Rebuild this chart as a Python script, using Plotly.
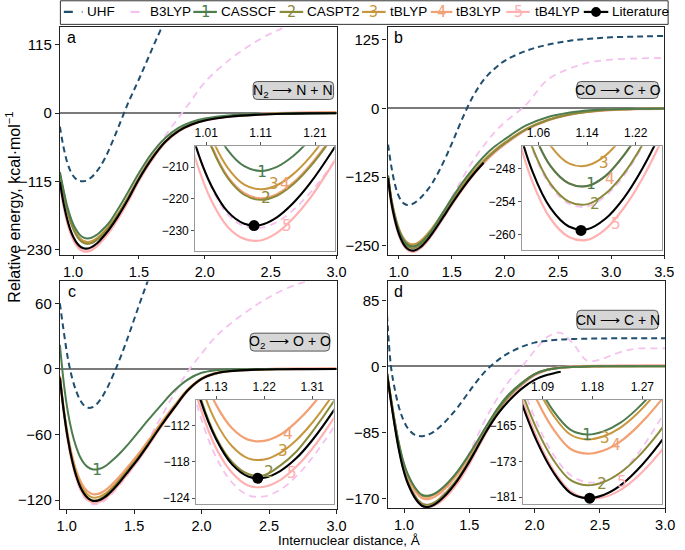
import plotly.graph_objects as go

# ---------------- data (kcal/mol vs internuclear distance, Angstrom) ----------------
N2_R = [0.90, 0.93, 0.96, 0.99, 1.02, 1.05, 1.08, 1.11, 1.14, 1.17, 1.20, 1.24, 1.28, 1.34,
        1.42, 1.5, 1.6, 1.7, 1.8, 1.9, 2.0, 2.2, 2.4, 2.6, 2.8, 3.0]
N2_UHF = [-23, -60, -86, -102, -110.5, -114.3, -114.8, -112.5, -108, -101, -92, -77, -58, -26,
          18, 57, 108, 158, 208, None, None, None, None, None, None, None]
N2_B3LYP = [-115, -154, -183, -203, -216.5, -225, -228.6, -229.1, -227.3, -223.5, -218.3, -209.5,
            -198.5, -178, -142, -108, -70, -38, -8, 22, 52, 92, 122, 144, 160, 172]
N2_CASSCF = [-99.3, -132.0, -160.5, -181.0, -195.4, -204.7, -209.7, -211.2, -209.9, -206.5, -201.4,
             -192.8, -182.8, -162, -132, -101, -67, -42, -25, -15, -9, -3.5, -1.5, -0.6, -0.2, 0]
N2_CASPT2 = [-103.5, -137.7, -167.4, -188.8, -203.8, -213.5, -218.7, -220.3, -219.0, -215.4, -210.1,
             -201.1, -190.6, -171.8, -142.1, -110.2, -74.9, -48.5, -29.7, -18.7, -11.7, -5.5, -2.6,
             -1.1, -0.4, -0.2]
N2_TBLYP = [-102.0, -135.6, -164.9, -186.0, -200.7, -210.3, -215.5, -217.0, -215.7, -212.2, -207.0,
            -198.1, -187.8, -169.3, -140.0, -108.5, -73.8, -47.7, -29.3, -18.4, -11.5, -5.0, -2.0,
            -0.6, 0.2, 0.6]
N2_TB3LYP = [-103.3, -137.4, -167.0, -188.4, -203.3, -213.1, -218.2, -219.8, -218.5, -214.9, -209.6,
             -200.7, -190.2, -171.4, -141.8, -109.9, -74.7, -48.4, -29.7, -18.7, -11.6, -5.0, -1.8,
             -0.2, 0.6, 1.0]
N2_TB4LYP = [-118.7, -157.8, -186.7, -207.2, -220.7, -228.9, -232.6, -233.1, -230.7, -226.1, -220.0,
             -209.7, -198.3, -178.2, -147.5, -113.9, -78.2, -49.5, -31.0, -19.8, -12.4, -5.3, -1.9,
             -0.1, 0.8, 1.2]
N2_LIT = [-116, -154.5, -182.8, -202.9, -216.0, -224.1, -227.8, -228.2, -225.8, -221.3, -215.3,
          -205.4, -194.2, -174.4, -144.4, -111.4, -76.4, -48.4, -30.4, -19.4, -12.4, -5.9, -2.8,
          -1.2, -0.5, -0.2]
N2_EQ_R = [1.098]
N2_EQ_E = [-228.4]

CO_R = [0.90, 0.93, 0.96, 0.99, 1.02, 1.05, 1.08, 1.11, 1.14, 1.17, 1.20, 1.23, 1.27, 1.32, 1.38,
        1.45, 1.52, 1.6, 1.7, 1.8, 1.9, 2.0, 2.2, 2.4, 2.6, 2.8, 3.0, 3.25, 3.5]
CO_UHF = [-66, -105, -135, -155, -167, -173.5, -176, -175.5, -173, -169, -164, -158, -149, -135,
          -114, -86, -55, -18, 22, 52, 72, 87, 105, 116, 123, 127, 129.5, 131, 132]
CO_B3LYP = [-125.0, -168.0, -196.6, -218.2, -233.9, -244.6, -251.2, -254.4, -254.9, -253.0, -249.4,
            -244.2, -235.7, -223.0, -205, -180, -155, -127, -95, -68, -44, -25, 7, 52, 72, 84, 89,
            91, 92]
CO_CASSCF = [-123.1, -165.6, -193.8, -215.0, -230.5, -241.0, -247.6, -250.7, -251.2, -249.4, -245.7,
             -240.7, -232.3, -219.8, -201, -179, -158, -135, -110, -88, -70, -56, -31, -16, -8,
             -3.5, -1.5, -0.5, -0.1]
CO_CASPT2 = [-124.8, -167.8, -196.3, -217.8, -233.5, -244.2, -250.8, -254.0, -254.5, -252.6, -249.0,
             -243.9, -235.3, -222.7, -205.9, -185.5, -165.3, -143.5, -118.8, -97.4, -78.9, -63.7,
             -38.2, -21.6, -11.5, -5.6, -2.5, -1.0, -0.3]
CO_TBLYP = [-121.3, -163.2, -190.9, -211.8, -227.1, -237.5, -243.9, -247.1, -247.5, -245.7, -242.1,
            -237.1, -228.8, -216.6, -200.3, -180.4, -160.8, -139.5, -115.5, -94.7, -76.8, -61.9,
            -37.1, -21.0, -11.1, -5.4, -2.5, -1.0, -0.2]
CO_TB3LYP = [-123.1, -165.6, -193.8, -215.0, -230.5, -241.0, -247.6, -250.7, -251.2, -249.4, -245.7,
             -240.7, -232.3, -219.8, -203.3, -183.1, -163.2, -141.6, -117.2, -96.1, -77.9, -62.8,
             -37.7, -21.4, -11.3, -5.5, -2.5, -1.0, -0.3]
CO_TB4LYP = [-127.9, -172.0, -201.2, -223.3, -239.4, -250.4, -257.1, -260.4, -260.9, -259.0, -255.2,
             -250.0, -241.2, -228.3, -211.1, -190.2, -169.5, -147.1, -121.8, -99.8, -80.9, -65.3,
             -39.2, -22.2, -11.7, -5.7, -2.6, -1.0, -0.3]
CO_LIT = [-127.0, -170.7, -199.8, -221.7, -237.6, -248.5, -255.2, -258.5, -259.0, -257.1, -253.4,
          -248.2, -239.5, -226.6, -209.6, -188.8, -168.2, -146.0, -120.9, -99.1, None, None, None,
          None, None, None, None, None, None]
CO_EQ_R = [1.130]
CO_EQ_E = [-259.2]

O2_R = [0.95, 0.98, 1.01, 1.04, 1.07, 1.10, 1.13, 1.16, 1.19, 1.22, 1.25, 1.28, 1.31, 1.35, 1.40,
        1.46, 1.53, 1.6, 1.7, 1.8, 1.9, 2.0, 2.1, 2.2, 2.4, 2.6, 2.8, 3.0]
O2_UHF = [60, 33, 9, -8, -20, -28.5, -33.5, -35.5, -35, -32.5, -28, -22, -15, -4, 11, 31, 56, 80,
          113, None, None, None, None, None, None, None, None, None]
O2_B3LYP = [-8, -41, -66.2, -85.5, -99.9, -110.2, -117.2, -121.4, -123.5, -123.7, -122.6, -120.4,
            -117.3, -112.3, -105.0, -95.5, -82, -66, -44, -22, -2, 14, 29, 40, 58, 72, 81, 87]
O2_CASSCF = [22, -14, -40, -58, -71, -80.5, -86.5, -90, -91.6, -91.8, -91, -89.2, -86.6, -82.4, -76.3,
             -68.2, -57.8, -47.3, -33, -19.5, -9.5, -3.5, -1.2, -0.4, 0, 0, 0, 0]
O2_CASPT2 = [-7.5, -39.7, -64.4, -83.1, -97.1, -107.1, -113.9, -118.0, -120.0, -120.2, -118.6, -116.3,
             -113.0, -108.0, -100.8, -91.8, -81.2, -69.3, -51.5, -34.8, -19.2, -9.0, -4.2, -2.0, -0.6,
             -0.2, -0.1, 0]
O2_TBLYP = [-6.5, -38.8, -63.0, -81.3, -95.0, -104.8, -111.4, -115.4, -117.4, -117.6, -116.5, -114.4,
            -111.5, -106.7, -99.8, -90.8, -80.2, -68.3, -50.6, -34.1, -18.8, -8.8, -4.1, -2.0, -0.5,
            -0.1, 0, 0]
O2_TB3LYP = [-6, -37.8, -61.3, -79.2, -92.5, -102.0, -108.5, -112.4, -114.3, -114.5, -113.5, -111.4,
             -108.6, -103.9, -97.2, -88.4, -78.0, -66.5, -49.3, -33.2, -18.3, -8.6, -3.8, -1.6, -0.3,
             0.1, 0.2, 0.3]
O2_TB4LYP = [-8, -40.3, -65.4, -84.4, -98.6, -108.8, -115.7, -119.8, -121.9, -122.1, -121.0, -118.8,
             -115.8, -110.8, -103.6, -94.3, -83.2, -70.9, -52.5, -35.4, -19.6, -9.2, -4.3, -2.1, -0.5,
             0, 0.2, 0.3]
O2_LIT = [-8.1, -39.8, -64.6, -83.4, -97.4, -107.5, -114.2, -118.4, -120.4, -120.6, -119.5, -117.4,
          -114.4, -109.5, -102.4, -93.1, -82.2, -70.0, -51.9, -35.0, -19.3, -9.1, -4.2, -2.1, -0.6,
          -0.2, -0.1, 0]
O2_EQ_R = [1.208]
O2_EQ_E = [-120.7]

CN_R = [0.87, 0.90, 0.93, 0.96, 0.99, 1.02, 1.05, 1.08, 1.11, 1.14, 1.17, 1.20, 1.23, 1.26, 1.30,
        1.35, 1.41, 1.48, 1.55, 1.63, 1.72, 1.8, 1.9, 2.0, 2.1, 2.2, 2.3, 2.4, 2.5, 2.6, 2.7, 2.8,
        2.9, 3.0]
CN_UHF = [66, 0, -30, -52, -67, -77.5, -84, -88, -89.8, -90, -89, -87, -84, -80, -74, -65, -53, -37,
          -21, -5, 8, 17, 25, 30.5, 33, 34.5, 35.2, 35.6, 35.8, 36, 36, 36, 36, 36]
CN_B3LYP = [-10, -43, -74.5, -102.5, -125, -142.5, -154.5, -164.3, -171.5, -176.0, -177.6, -177.4,
            -175.5, -171.5, -164, -153, -138, -118, -94, -66, -40, -20, -1, 20, 38, 43, 28, 7.5,
            8.5, 15, 20.5, 23, 23, 23]
CN_CASSCF = [-9.2, -41.4, -71.8, -98.5, -119.7, -135.4, -146.4, -155.2, -161.7, -165.8, -166.9,
             -166.2, -164.3, -161.2, -155.8, -147.4, -135.4, -118.3, -99.5, -77.4, -53.4, -36.7,
             -21.7, -10.0, -4.2, -1.7, -0.7, -0.2, 0, 0, 0, 0, 0, 0]
CN_CASPT2 = [-9.8, -44.2, -76.7, -105.2, -127.8, -144.6, -156.4, -165.8, -172.7, -177.1, -178.3,
             -177.6, -175.5, -172.2, -166.4, -157.4, -144.6, -126.4, -106.3, -82.7, -57.1, -39.2,
             -23.2, -10.7, -4.5, -1.8, -0.7, -0.2, 0, 0, 0, 0, 0, 0]
CN_TBLYP = [-9.2, -41.7, -72.2, -99.1, -120.5, -136.2, -147.3, -156.2, -162.7, -166.9, -168.0, -167.3,
            -165.4, -162.3, -156.8, -148.3, -136.2, -119.1, -100.1, -77.9, -53.8, -37.0, -21.8,
            -10.1, -4.2, -1.7, -0.7, -0.2, 0, 0, 0, 0, 0, 0]
CN_TB3LYP = [-9.4, -42.5, -73.6, -101.0, -122.8, -138.8, -150.1, -159.2, -165.8, -170.1, -171.2,
             -170.5, -168.5, -165.3, -159.8, -151.2, -138.8, -121.4, -102.0, -79.4, -54.8, -37.7,
             -22.3, -10.3, -4.3, -1.7, -0.7, -0.2, 0, 0.2, 0.3, 0.4, 0.5, 0.5]
CN_TB4LYP = [-9, -43, -75.5, -104.5, -128.0, -145.5, -157.8, -167.7, -175.0, -179.6, -181.2, -181.0,
             -179.4, -176.5, -171.2, -162.6, -150.0, -131.5, -109.5, -85.0, -60.0, -41.5, -24.5,
             -11.5, -4.5, -1.5, -0.3, 0.3, 0.6, 0.8, 0.9, 1.0, 1.0, 1.0]
CN_LIT = [-10, -45, -78, -107, -130, -147, -159, -168.5, -175.5, -180.0, -181.2, -180.5, -178.4,
          -175.0, -169.1, -160.0, -147.0, -128.5, -108, -84, -61, -45, -29, -17.5, -11, -7, None,
          None, None, None, None, None, None, None]
CN_EQ_R = [1.175]
CN_EQ_E = [-181.2]

METHODS = ["UHF", "B3LYP", "CASSCF", "CASPT2", "tBLYP", "tB3LYP", "tB4LYP", "Literature"]
REACTIONS = ["N<sub>2</sub> ⟶ N + N", "CO ⟶ C + O", "O<sub>2</sub> ⟶ O + O", "CN ⟶ C + N"]
PANEL_LETTERS = ["a", "b", "c", "d"]
MAIN_YTICKS = [[-230, -115, 0, 115], [-250, -125, 0, 125], [-120, -60, 0, 60], [-170, -85, 0, 85]]
MAIN_XTICKS = [[1.0, 1.5, 2.0, 2.5, 3.0], [1.0, 1.5, 2.0, 2.5, 3.0, 3.5],
               [1.0, 1.5, 2.0, 2.5, 3.0], [1.0, 1.5, 2.0, 2.5, 3.0]]
INSET_XTICKS = [[1.01, 1.11, 1.21], [1.06, 1.14, 1.22], [1.13, 1.22, 1.31], [1.09, 1.18, 1.27]]
INSET_YTICKS = [[-230, -220, -210], [-260, -254, -248], [-124, -118, -112], [-181, -173, -165]]

# ---------------- styling ----------------
W, H = 685, 550
FONT = "Liberation Sans, Arial, Helvetica, sans-serif"
MONO = "DejaVu Sans Mono, monospace"
COL = {
    "UHF": "#1f4e6e", "B3LYP": "#f5c2ef", "CASSCF": "#4d7c4f", "CASPT2": "#8a8a3b",
    "tBLYP": "#c8963e", "tB3LYP": "#f2a074", "tB4LYP": "#ffb1b1", "Literature": "#000000",
}
WID = {"UHF": 2, "B3LYP": 1.8, "CASSCF": 2, "CASPT2": 2, "tBLYP": 2, "tB3LYP": 2.2,
       "tB4LYP": 2.6, "Literature": 2.1}
DASH = {"UHF": "6px,4px", "B3LYP": "7px,5px"}
DRAW_ORDER = ["B3LYP", "UHF", "tB4LYP", "tB3LYP", "tBLYP", "CASPT2", "CASSCF", "Literature"]
DIGIT = {"CASSCF": "1", "CASPT2": "2", "tBLYP": "3", "tB3LYP": "4", "tB4LYP": "5"}


def px(x):
    return x / W


def py(y):
    return 1 - y / H


panels = [
    dict(R=N2_R, data={"UHF": N2_UHF, "B3LYP": N2_B3LYP, "CASSCF": N2_CASSCF, "CASPT2": N2_CASPT2,
                       "tBLYP": N2_TBLYP, "tB3LYP": N2_TB3LYP, "tB4LYP": N2_TB4LYP, "Literature": N2_LIT},
         eq=(N2_EQ_R, N2_EQ_E),
         dom=(58, 340, 27, 256), xr=[0.90, 3.0], yr=[-238.4, 145.2],
         idom=(196, 338, 147, 252), ixr=[0.99, 1.246], iyr=[-236.3, -203.4],
         box=(255, 337, 82, 100), letter=(70, 38),
         digits={"CASSCF": (1.113, -211.5), "tBLYP": (1.135, -215.3), "tB3LYP": (1.155, -215.3),
                 "CASPT2": (1.120, -219.5), "tB4LYP": (1.158, -228.3)}),
    dict(R=CO_R, data={"UHF": CO_UHF, "B3LYP": CO_B3LYP, "CASSCF": CO_CASSCF, "CASPT2": CO_CASPT2,
                       "tBLYP": CO_TBLYP, "tB3LYP": CO_TB3LYP, "tB4LYP": CO_TB4LYP, "Literature": CO_LIT},
         eq=(CO_EQ_R, CO_EQ_E),
         dom=(392, 674, 27, 256), xr=[0.895, 3.5], yr=[-266.3, 148.6],
         idom=(529, 671.7, 147, 251.7), ixr=[1.033, 1.263], iyr=[-262.8, -244.0],
         box=(585, 668, 82, 99), letter=(403, 38),
         digits={"tBLYP": (1.167, -246.9), "tB3LYP": (1.178, -249.8), "CASSCF": (1.146, -250.8),
                 "CASPT2": (1.153, -254.3), "tB4LYP": (1.188, -258.0)}),
    dict(R=O2_R, data={"UHF": O2_UHF, "B3LYP": O2_B3LYP, "CASSCF": O2_CASSCF, "CASPT2": O2_CASPT2,
                       "tBLYP": O2_TBLYP, "tB3LYP": O2_TB3LYP, "tB4LYP": O2_TB4LYP, "Literature": O2_LIT},
         eq=(O2_EQ_R, O2_EQ_E),
         dom=(58, 340, 283, 512), xr=[0.95, 3.0], yr=[-128.2, 80.0],
         idom=(197, 337, 402, 507), ixr=[1.093, 1.350], iyr=[-125.0, -107.7],
         box=(252, 333, 335, 353), letter=(70, 293),
         digits={"tB3LYP": (1.264, -113.2), "tBLYP": (1.255, -116.1), "CASPT2": (1.230, -119.6),
                 "tB4LYP": (1.273, -119.7)}),
    dict(R=CN_R, data={"UHF": CN_UHF, "B3LYP": CN_B3LYP, "CASSCF": CN_CASSCF, "CASPT2": CN_CASPT2,
                       "tBLYP": CN_TBLYP, "tB3LYP": CN_TB3LYP, "tB4LYP": CN_TB4LYP, "Literature": CN_LIT},
         eq=(CN_EQ_R, CN_EQ_E),
         dom=(392, 675, 283, 511), xr=[0.874, 3.0], yr=[-182.8, 109.3],
         idom=(530, 671.7, 402, 506.7), ixr=[1.0546, 1.3054], iyr=[-182.5, -159.1],
         box=(585, 668, 312, 331), letter=(403, 293),
         digits={"CASSCF": (1.171, -166.9), "tBLYP": (1.202, -167.6), "tB3LYP": (1.223, -169.1),
                 "CASPT2": (1.198, -178.0), "tB4LYP": (1.2335, -177.4)}),
]

fig = go.Figure()
layout = dict(width=W, height=H, margin=dict(l=0, r=0, t=0, b=0), showlegend=False,
              paper_bgcolor="white", plot_bgcolor="white",
              font=dict(family=FONT, size=15, color="black"))
annotations = []
shapes = []


def axname(kind, n):
    return kind + ("" if n == 1 else str(n))


for i, p in enumerate(panels):
    m = i + 1          # main subplot index
    s = i + 5          # inset subplot index
    for n, is_inset in ((m, False), (s, True)):
        for meth in DRAW_ORDER:
            fig.add_trace(go.Scatter(
                x=p["R"], y=p["data"][meth], mode="lines",
                line=dict(color=COL[meth], width=WID[meth] if not is_inset else min(WID[meth], 2.2),
                          dash=DASH.get(meth, "solid"), shape="spline", smoothing=1.0),
                xaxis=axname("x", n), yaxis=axname("y", n), hoverinfo="skip", name=meth))
    fig.add_trace(go.Scatter(x=p["eq"][0], y=p["eq"][1], mode="markers",
                             marker=dict(size=11, color="black"),
                             xaxis=axname("x", s), yaxis=axname("y", s), name="Literature"))

    x0, x1, y0, y1 = p["dom"]
    layout[axname("xaxis", m)] = dict(
        domain=[px(x0), px(x1)], range=p["xr"], anchor=axname("y", m),
        tickvals=MAIN_XTICKS[i], tickformat=".1f", ticks="outside", ticklen=3.5, tickwidth=1.2,
        tickcolor="#222", showline=True, linecolor="#222", linewidth=1.3, mirror=True,
        showgrid=False, zeroline=False, tickfont=dict(size=14.5))
    layout[axname("yaxis", m)] = dict(
        domain=[py(y1), py(y0)], range=p["yr"], anchor=axname("x", m),
        tickvals=MAIN_YTICKS[i], ticks="outside", ticklen=4, tickwidth=1.2, tickcolor="#222",
        showline=True, linecolor="#222", linewidth=1.3, mirror=True, showgrid=False,
        zeroline=True, zerolinecolor="#7a7a7a", zerolinewidth=1.6, tickfont=dict(size=15))

    ix0, ix1, iy0, iy1 = p["idom"]
    layout[axname("xaxis", s)] = dict(
        domain=[px(ix0), px(ix1)], range=p["ixr"], anchor=axname("y", s), side="top",
        tickvals=INSET_XTICKS[i], tickformat=".2f", ticks="outside", ticklen=3, tickcolor="#555",
        showline=True, linecolor="#9a9a9a", linewidth=1.2, mirror=True, showgrid=False,
        zeroline=False, tickfont=dict(size=12))
    layout[axname("yaxis", s)] = dict(
        domain=[py(iy1), py(iy0)], range=p["iyr"], anchor=axname("x", s),
        tickvals=INSET_YTICKS[i], ticks="outside", ticklen=3, tickcolor="#555",
        showline=True, linecolor="#9a9a9a", linewidth=1.2, mirror=True, showgrid=False,
        zeroline=False, tickfont=dict(size=12))

    # digit labels on inset curves
    for meth, (dx, dy) in p["digits"].items():
        annotations.append(dict(x=dx, y=dy, xref=axname("x", s), yref=axname("y", s),
                                text=DIGIT[meth], showarrow=False,
                                font=dict(family=MONO, size=16, color=COL[meth])))

    # reaction label with rounded box
    bx0, bx1, by0, by1 = p["box"]
    r = 4
    pts = lambda X, Y: "%.5f,%.5f" % (px(X), py(Y))
    path = ("M " + pts(bx0 + r, by0) + " L " + pts(bx1 - r, by0) + " Q " + pts(bx1, by0) + " " +
            pts(bx1, by0 + r) + " L " + pts(bx1, by1 - r) + " Q " + pts(bx1, by1) + " " +
            pts(bx1 - r, by1) + " L " + pts(bx0 + r, by1) + " Q " + pts(bx0, by1) + " " +
            pts(bx0, by1 - r) + " L " + pts(bx0, by0 + r) + " Q " + pts(bx0, by0) + " " +
            pts(bx0 + r, by0) + " Z")
    shapes.append(dict(type="path", path=path, xref="paper", yref="paper",
                       fillcolor="#d6d6d6", line=dict(color="#555555", width=1), layer="above"))
    annotations.append(dict(x=px((bx0 + bx1) / 2), y=py((by0 + by1) / 2), xref="paper", yref="paper",
                            text=REACTIONS[i], showarrow=False, font=dict(size=14),
                            xanchor="center", yanchor="middle"))
    lx, ly = p["letter"]
    annotations.append(dict(x=px(lx), y=py(ly), xref="paper", yref="paper", text=PANEL_LETTERS[i],
                            showarrow=False, font=dict(size=16), xanchor="center", yanchor="middle"))

# main c: CASSCF label in the main panel
annotations.append(dict(x=1.226, y=-91.8, xref="x3", yref="y3", text="1", showarrow=False,
                        font=dict(family=MONO, size=16, color=COL["CASSCF"])))

# axis titles
annotations.append(dict(x=px(10), y=py(208), xref="paper", yref="paper",
                        text="Relative energy, kcal·mol<sup>−1</sup>", textangle=-90,
                        showarrow=False, font=dict(size=16), xanchor="center", yanchor="middle"))
annotations.append(dict(x=px(353), y=py(543.5), xref="paper", yref="paper",
                        text="Internuclear distance, Å", showarrow=False, font=dict(size=13.5),
                        xanchor="center", yanchor="middle"))

# legend (drawn manually)
LY = 12
shapes.append(dict(type="rect", xref="paper", yref="paper", x0=px(58.5), x1=px(678),
                   y0=py(24.5), y1=py(0.8), line=dict(color="#333333", width=1),
                   fillcolor="white", layer="above"))
leg = [("UHF", 62, 81, 84), ("B3LYP", 130, 145, 148), ("CASSCF", 194, 218, 220),
       ("CASPT2", 282, 306, 308), ("tBLYP", 366, 390, 392), ("tB3LYP", 436, 458, 460),
       ("tB4LYP", 513, 537, 540), ("Literature", 592, 617, 619)]
for meth, a0, a1, tx in leg:
    shapes.append(dict(type="line", xref="paper", yref="paper", x0=px(a0), x1=px(a1),
                       y0=py(LY), y1=py(LY), layer="above",
                       line=dict(color=COL[meth], width=2.2, dash="dash" if meth in DASH else "solid")))
    if meth in DIGIT:
        annotations.append(dict(x=px((a0 + a1) / 2), y=py(LY), xref="paper", yref="paper",
                                text=DIGIT[meth], showarrow=False, xanchor="center", yanchor="middle",
                                font=dict(family=MONO, size=15, color=COL[meth])))
    if meth == "Literature":
        c = (a0 + a1) / 2
        shapes.append(dict(type="circle", xref="paper", yref="paper", x0=px(c - 5), x1=px(c + 5),
                           y0=py(LY + 5), y1=py(LY - 5), fillcolor="black",
                           line=dict(color="black", width=0), layer="above"))
    annotations.append(dict(x=px(tx), y=py(LY), xref="paper", yref="paper", text=meth,
                            showarrow=False, xanchor="left", yanchor="middle", font=dict(size=13.5)))

layout["annotations"] = annotations
layout["shapes"] = shapes
fig.update_layout(**layout)
fig.write_html("out.html", config={"displayModeBar": False},
               post_script="document.body.style.margin='0';")
